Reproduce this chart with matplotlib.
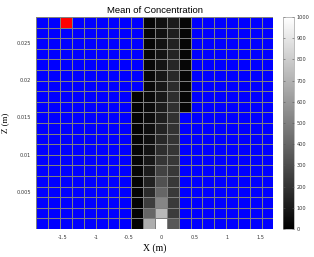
import numpy as np
import matplotlib
matplotlib.use('Agg')
import matplotlib.pyplot as plt

# grid (20 x 20 cells)
x_edges = np.linspace(-1.9, 1.7, 21)
z_edges = np.linspace(0.0, 0.0285, 21)

# concentration per column, listed from the bottom row upwards
col8 = [15, 15, 15, 15, 15, 20, 20, 20, 20, 15, 15, 15, 15]
col9 = [680, 400, 240, 170, 130, 110, 90, 75, 65, 55, 50, 45, 40, 40, 35, 35, 35, 30, 30, 30]
col10 = [1000, 720, 520, 400, 320, 260, 210, 180, 160, 140, 120, 110, 100, 95, 90, 85, 80, 75, 70, 70]
col11 = [340, 235, 230, 225, 220, 220, 215, 210, 205, 200, 195, 190, 180, 170, 160, 150, 140, 130, 120, 110]
col12 = [30, 30, 30, 30, 30, 30, 30, 30, 30]   # top 9 rows only
hot_cell = (19, 2)   # the red cell (row, col)

cb_ticks = [0, 100, 200, 300, 400, 500, 600, 700, 800, 900, 1000]
x_ticks = [-1.5, -1, -0.5, 0, 0.5, 1, 1.5]
z_ticks = [0.005, 0.01, 0.015, 0.02, 0.025]

conc = np.full((20, 20), np.nan)
conc[:len(col8), 8] = col8
conc[:, 9] = col9
conc[:, 10] = col10
conc[:, 11] = col11
conc[20 - len(col12):, 12] = col12
conc[hot_cell] = 2000

cmap = plt.get_cmap('gray').copy()
cmap.set_bad('#0000ff')
cmap.set_over('#ff0000')

fig = plt.figure(figsize=(3.14, 2.57), dpi=100)
ax = fig.add_axes([0.116, 0.109, 0.755, 0.825])
mesh = ax.pcolormesh(x_edges, z_edges, np.ma.masked_invalid(conc), cmap=cmap,
                     vmin=0, vmax=1000, edgecolors='#7f7f7f', linewidth=0.5)
ax.set_xlim(x_edges[0], x_edges[-1])
ax.set_ylim(z_edges[0], z_edges[-1])
ax.set_xticks(x_ticks)
ax.set_xticklabels(['-1.5', '-1', '-0.5', '0', '0.5', '1', '1.5'])
ax.set_yticks(z_ticks)
ax.set_yticklabels(['0.005', '0.01', '0.015', '0.02', '0.025'])
ax.tick_params(length=0, labelsize=3.6, pad=4, labelcolor='#333333')
for s in ax.spines.values():
    s.set_visible(False)

ax.set_title('Mean of Concentration', family='Liberation Sans', fontsize=6.8, pad=3)
ax.set_xlabel('X (m)', family='Liberation Serif', fontsize=7, labelpad=3)
ax.set_ylabel('Z (m)', family='Liberation Serif', fontsize=6.5, labelpad=5)

cax = fig.add_axes([0.902, 0.109, 0.035, 0.825])
cb = fig.colorbar(mesh, cax=cax, ticks=cb_ticks)
cb.outline.set_linewidth(0.4)
cb.outline.set_edgecolor('#888888')
cax.tick_params(direction='in', length=1.5, width=0.4, labelsize=3.6, pad=2,
                left=True, right=True, labelcolor='#333333', color='#555555')

fig.savefig('out.png', dpi=100)
